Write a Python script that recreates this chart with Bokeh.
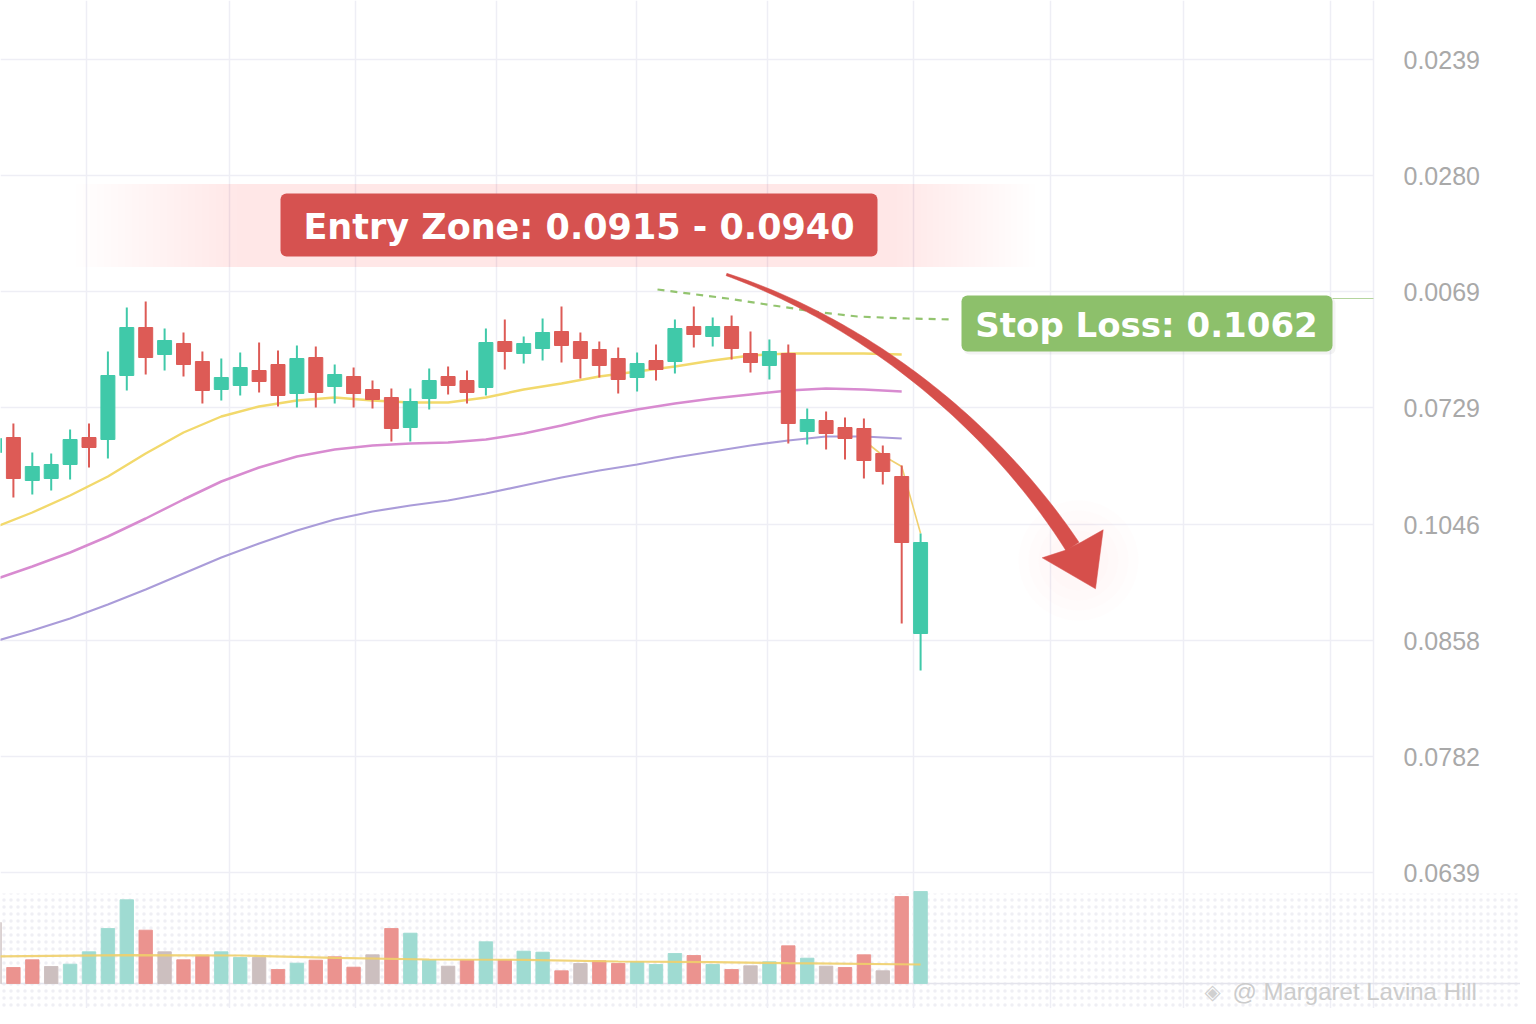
import numpy as np
from bokeh.plotting import figure
from bokeh.models import Range1d, Span, Label, ColumnDataSource
from bokeh.embed import file_html
from bokeh.resources import INLINE
from bokeh.core.properties import value

# ---------------- data ----------------
opens = [0.0748, 0.0763, 0.0720, 0.0722, 0.0736, 0.0763, 0.0761, 0.0825, 0.0873, 0.0846,
         0.0857, 0.0839, 0.0811, 0.0815, 0.0830, 0.0836, 0.0807, 0.0843, 0.0814, 0.0824,
         0.0811, 0.0803, 0.0773, 0.0802, 0.0824, 0.0820, 0.0813, 0.0859, 0.0847, 0.0852,
         0.0869, 0.0859, 0.0851, 0.0842, 0.0823, 0.0840, 0.0839, 0.0874, 0.0864, 0.0874,
         0.0847, 0.0835, 0.0847, 0.0769, 0.0780, 0.0773, 0.0772, 0.0747, 0.0724, 0.0567]
highs = [0.0769, 0.0777, 0.0748, 0.0747, 0.0771, 0.0777, 0.0849, 0.0893, 0.0899, 0.0872,
         0.0868, 0.0849, 0.0842, 0.0848, 0.0858, 0.0850, 0.0855, 0.0854, 0.0836, 0.0833,
         0.0820, 0.0812, 0.0812, 0.0832, 0.0834, 0.0830, 0.0872, 0.0881, 0.0864, 0.0882,
         0.0894, 0.0868, 0.0859, 0.0853, 0.0848, 0.0856, 0.0881, 0.0894, 0.0883, 0.0885,
         0.0869, 0.0861, 0.0856, 0.0792, 0.0789, 0.0783, 0.0782, 0.0755, 0.0735, 0.0667]
lows = [0.0723, 0.0703, 0.0706, 0.0710, 0.0721, 0.0733, 0.0742, 0.0810, 0.0826, 0.0830,
        0.0824, 0.0797, 0.0800, 0.0805, 0.0808, 0.0794, 0.0793, 0.0793, 0.0797, 0.0793,
        0.0792, 0.0759, 0.0759, 0.0791, 0.0806, 0.0797, 0.0805, 0.0831, 0.0837, 0.0840,
        0.0838, 0.0822, 0.0823, 0.0807, 0.0809, 0.0820, 0.0827, 0.0853, 0.0854, 0.0841,
        0.0828, 0.0821, 0.0757, 0.0756, 0.0751, 0.0741, 0.0722, 0.0716, 0.0577, 0.0530]
closes = [0.0762, 0.0722, 0.0734, 0.0736, 0.0761, 0.0753, 0.0825, 0.0873, 0.0843, 0.0860,
          0.0836, 0.0810, 0.0823, 0.0833, 0.0819, 0.0805, 0.0842, 0.0808, 0.0826, 0.0807,
          0.0801, 0.0772, 0.0799, 0.0820, 0.0815, 0.0808, 0.0858, 0.0849, 0.0857, 0.0868,
          0.0855, 0.0842, 0.0835, 0.0821, 0.0837, 0.0831, 0.0872, 0.0866, 0.0874, 0.0852,
          0.0838, 0.0849, 0.0777, 0.0781, 0.0767, 0.0762, 0.0740, 0.0729, 0.0658, 0.0658]

volumes = [610, 160, 237, 170, 193, 317, 550, 837, 533, 317,
           237, 283, 317, 260, 260, 140, 203, 233, 267, 163,
           287, 550, 503, 233, 173, 233, 417, 237, 323, 313,
           127, 200, 227, 200, 217, 190, 300, 280, 190, 140,
           177, 217, 377, 253, 173, 160, 287, 127, 870, 920]
vol_kind = ["g", "r", "r", "g", "t", "t", "t", "t", "r", "g",
            "r", "r", "t", "t", "g", "r", "t", "r", "r", "r",
            "g", "r", "t", "t", "g", "r", "t", "r", "t", "t",
            "r", "g", "r", "r", "t", "t", "t", "r", "t", "r",
            "g", "t", "r", "t", "g", "r", "r", "g", "r", "t"]

ma_idx = list(range(0, 49, 2))
ma_fast = [0.0673, 0.0688, 0.0705, 0.0724, 0.0747, 0.0768, 0.0784, 0.0794, 0.0800, 0.0803,
           0.0800, 0.0798, 0.0798, 0.0803, 0.0811, 0.0817, 0.0824, 0.0829, 0.0834, 0.0840,
           0.0845, 0.0847, 0.0847, 0.0847, 0.0846]
ma_mid = [0.0621, 0.0634, 0.0648, 0.0664, 0.0682, 0.0701, 0.0719, 0.0733, 0.0744, 0.0751,
          0.0755, 0.0757, 0.0758, 0.0761, 0.0767, 0.0775, 0.0784, 0.0791, 0.0797, 0.0802,
          0.0806, 0.0810, 0.0812, 0.0811, 0.0809]
ma_slow = [0.0559, 0.0570, 0.0582, 0.0596, 0.0611, 0.0627, 0.0643, 0.0657, 0.0670, 0.0681,
           0.0689, 0.0695, 0.0700, 0.0707, 0.0715, 0.0723, 0.0730, 0.0736, 0.0743, 0.0749,
           0.0755, 0.0760, 0.0764, 0.0764, 0.0762]
tail_idx = [46, 47, 48, 49]
tail_vals = [0.0760, 0.0745, 0.0734, 0.0667]

vol_ma_idx = [0, 7, 13, 18, 23, 28, 33, 38, 42, 49]
vol_ma = [270, 283, 280, 257, 240, 237, 220, 213, 203, 190]

tick_vals = [0.1141, 0.1025, 0.0909, 0.0793, 0.0676, 0.0560, 0.0444, 0.0328]
tick_labels = ["0.0239", "0.0280", "0.0069", "0.0729", "0.1046", "0.0858", "0.0782", "0.0639"]

entry_text = "Entry Zone: 0.0915 - 0.0940"
stop_text = "Stop Loss: 0.1062"
watermark = "@ Margaret Lavina Hill"

# ---------------- styles ----------------
UP = "#40c9a9"
DOWN = "#dd5b56"
VOLC = {"r": "#eb938f", "t": "#9fdbd2", "g": "#ccbfbf"}
GRID = "#eeeef5"
W, H = 1520, 1008

# layout helpers for annotation placement (canvas pixels -> data space)
def ax(px):
    return (np.asarray(px, dtype=float) + 6) / 18.9

def ay(py):
    return 0.12 - np.asarray(py, dtype=float) / 10000

idx = list(range(len(opens)))
up = [c >= o for o, c in zip(opens, closes)]
src = ColumnDataSource(dict(
    x=idx, o=opens, h=highs, l=lows, c=closes,
    top=[max(o, c) for o, c in zip(opens, closes)],
    bot=[min(o, c) for o, c in zip(opens, closes)],
    col=[UP if u else DOWN for u in up],
))
vsrc = ColumnDataSource(dict(x=idx, v=volumes, col=[VOLC[k] for k in vol_kind]))

p = figure(width=W, height=H, output_backend="svg", toolbar_location=None,
           x_axis_location=None, y_axis_location=None,
           x_range=Range1d(float(ax(0)), float(ax(W))), y_range=Range1d(float(ay(H)), float(ay(0))),
           min_border=0)
p.outline_line_color = None
p.background_fill_color = "white"
p.border_fill_color = "white"
p.grid.visible = False
p.extra_y_ranges = {"vol": Range1d(-(H - 983) * 10, 983 * 10)}

PLOT_RIGHT = 1373

# grid lines
for gx in [86, 229, 355, 496, 636, 767, 913, 1050, 1183, 1330, PLOT_RIGHT]:
    p.add_layout(Span(location=float(ax(gx)), dimension="height", line_color=GRID,
                      line_width=1.5, level="underlay"))
p.segment(x0=[float(ax(0))] * len(tick_vals), x1=[float(ax(PLOT_RIGHT))] * len(tick_vals),
          y0=tick_vals, y1=tick_vals, line_color=GRID, line_width=1.5, level="underlay")

# price labels on the right
p.text(x=[float(ax(1403))] * len(tick_vals), y=tick_vals, text=tick_labels,
       text_font=value("Liberation Sans"), text_font_size="25px", text_color="#a9a9a9",
       text_align="left", text_baseline="middle")

# dotted texture in the volume area
p.quad(left=float(ax(0)), right=float(ax(W)), bottom=float(ay(H)), top=float(ay(893)),
       fill_alpha=0, line_alpha=0, hatch_pattern="dot", hatch_color="#d8d8e4",
       hatch_alpha=0.4, hatch_scale=7, hatch_weight=1, level="underlay")

# entry zone glow band
n_layers = 24
for k in range(n_layers):
    p.quad(left=float(ax(75 + 7 * k)), right=float(ax(1035 - 6 * k)),
           bottom=float(ay(267)), top=float(ay(183)),
           fill_color="#ef9c9c", fill_alpha=0.013, line_alpha=0)

# volume
p.add_layout(Span(location=0, dimension="width", y_range_name="vol", line_color="#e4e4ec",
                  line_width=1.5, level="underlay"))
p.vbar(x="x", top="v", bottom=0, width=0.71, source=vsrc, y_range_name="vol",
       fill_color="col", line_color="col", line_alpha=0.9)
p.line(vol_ma_idx, vol_ma, y_range_name="vol", line_color="#f0cf6a", line_width=2.2, line_alpha=0.9)

# moving averages
p.line(ma_idx, ma_slow, line_color="#aa9cd9", line_width=2.2)
p.line(ma_idx, ma_mid, line_color="#d88bd0", line_width=2.5)
p.line(ma_idx, ma_fast, line_color="#f2d96c", line_width=2.4)
p.line(tail_idx, tail_vals, line_color="#f0d070", line_width=1.6)

# candles
p.segment(x0="x", y0="h", x1="x", y1="l", source=src, line_color="col", line_width=2)
p.vbar(x="x", top="top", bottom="bot", width=0.74, source=src, fill_color="col", line_color="col")

# stop-loss dashed guide
sl_px = np.array([(657, 289), (727, 298), (773, 305), (813, 311), (857, 316), (907, 318), (952, 319)])
p.line(ax(sl_px[:, 0]), ay(sl_px[:, 1]), line_color="#93c46f", line_width=2.2, line_dash="7 6")
p.line(ax([1332, PLOT_RIGHT]), ay([298, 298]), line_color="#b5d59f", line_width=1)

# curved tapered arrow
P = np.array([(726, 274), (860, 320), (990, 420), (1072, 546)], dtype=float)
t = np.linspace(0, 1, 80)[:, None]
B = ((1 - t) ** 3) * P[0] + 3 * ((1 - t) ** 2) * t * P[1] + 3 * (1 - t) * t ** 2 * P[2] + t ** 3 * P[3]
D = 3 * ((1 - t) ** 2) * (P[1] - P[0]) + 6 * (1 - t) * t * (P[2] - P[1]) + 3 * t ** 2 * (P[3] - P[2])
N = np.column_stack([-D[:, 1], D[:, 0]]) / np.linalg.norm(D, axis=1)[:, None]
half = (1.2 + 6.5 * t[:, 0] ** 0.9)[:, None]
Lside = B + N * half
Rside = B - N * half
poly = np.vstack([Lside, Rside[::-1]])
# soft halo around the arrow head
for r in [120, 100, 80, 60]:
    p.scatter(x=[float(ax(1078))], y=[float(ay(560))], size=r, fill_color="#f6b5b5",
              fill_alpha=0.025, line_alpha=0)
p.patch(ax(poly[:, 0]), ay(poly[:, 1]), fill_color="#d64f4b", line_color="#d64f4b", line_width=0.5)
head = np.array([(1041.7, 557.3), (1064, 550), (1081, 541.5), (1102.7, 529.3), (1095, 588.3)])
p.patch(ax(head[:, 0]), ay(head[:, 1]), fill_color="#d64f4b", line_color="#d64f4b", line_width=0.5)

# labels
p.quad(left=float(ax(280)), right=float(ax(877)), bottom=float(ay(256)), top=float(ay(193)),
       fill_color="#d65250", line_alpha=0, border_radius=6)
p.text(x=[float(ax(578.5))], y=[float(ay(226))], text=[entry_text], text_font=value("DejaVu Sans"),
       text_font_size="35px", text_font_style="bold", text_color="white",
       text_align="center", text_baseline="middle")

p.quad(left=float(ax(963)), right=float(ax(1335)), bottom=float(ay(354)), top=float(ay(297)),
       fill_color="#999999", fill_alpha=0.12, line_alpha=0, border_radius=6)
p.quad(left=float(ax(961)), right=float(ax(1332)), bottom=float(ay(351)), top=float(ay(295)),
       fill_color="#8dc06b", line_alpha=0, border_radius=6)
p.text(x=[float(ax(1146))], y=[float(ay(324))], text=[stop_text], text_font=value("DejaVu Sans"),
       text_font_size="34px", text_font_style="bold", text_color="white",
       text_align="center", text_baseline="middle")

# watermark
p.add_layout(Label(x=1204, y=H - 991, x_units="screen", y_units="screen", text="\u25c8",
                   text_font="DejaVu Sans", text_font_size="21px", text_color="#d0d0d0",
                   text_baseline="middle"))
p.add_layout(Label(x=1232, y=H - 991, x_units="screen", y_units="screen", text=watermark,
                   text_font="Liberation Sans", text_font_size="24px", text_color="#cccccc",
                   text_baseline="middle"))

open("out.html", "w").write(file_html(p, INLINE))
